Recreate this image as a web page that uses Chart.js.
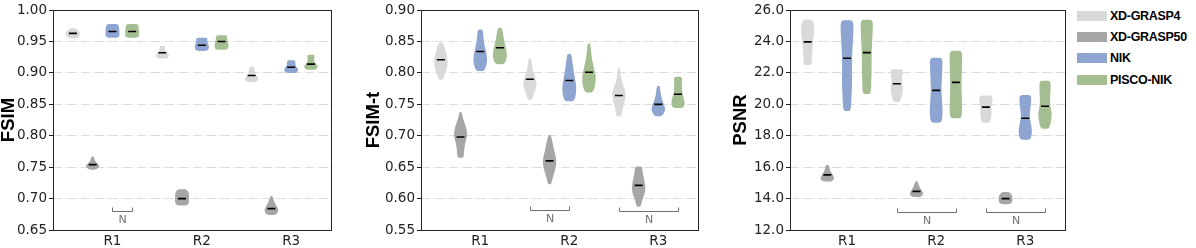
<!DOCTYPE html>
<html>
<head>
<meta charset="utf-8">
<script src="https://cdn.jsdelivr.net/npm/chart.js@4.4.0/dist/chart.umd.min.js"></script>
<style>
  body { margin: 0; width: 1196px; height: 248px; background: #fff; position: relative; overflow: hidden; }
  canvas { position: absolute; top: 0; }
  #legend { position: absolute; left: 1077px; top: 0; font: bold 12.5px "Liberation Sans", Arial, sans-serif; letter-spacing: -0.3px; color: #000; }
  .item { position: absolute; left: 0; height: 14px; line-height: 14px; white-space: nowrap; }
  .box { position: absolute; left: 0; top: 2px; width: 30px; height: 10px; }
  .item span.txt { position: absolute; left: 33px; top: 0; }
</style>
</head>
<body>
<canvas id="fsimChart" width="337" height="248" style="left:0px"></canvas>
<canvas id="fsimtChart" width="343" height="248" style="left:361px"></canvas>
<canvas id="psnrChart" width="341" height="248" style="left:730px"></canvas>
<div id="legend"></div>

<script>
// categories and methods
var categories = ['R1', 'R2', 'R3'];
var methods = ['XD-GRASP4', 'XD-GRASP50', 'NIK', 'PISCO-NIK'];
var methodColors = ['#d9d9d9', '#a6a6a6', '#8ea5d1', '#a4be91'];

// FSIM: one row per category, one value per method
var fsimMedian = [[0.963, 0.754, 0.966, 0.966], [0.932, 0.700, 0.944, 0.950], [0.896, 0.684, 0.909, 0.914]];
var fsimLow    = [[0.955, 0.746, 0.956, 0.956], [0.923, 0.689, 0.935, 0.937], [0.885, 0.674, 0.900, 0.905]];
var fsimHigh   = [[0.971, 0.767, 0.978, 0.978], [0.943, 0.715, 0.956, 0.960], [0.910, 0.704, 0.920, 0.929]];
// relative density from low to high
var fsimShape = [
  [[0.5, 0.9, 1, 1, 0.9, 0.7, 0.4], [0.5, 0.9, 1, 0.6, 0.35, 0.25, 0.15], [0.85, 1, 1, 1, 0.95, 0.9, 0.8], [0.85, 1, 1, 1, 0.95, 0.9, 0.8]],
  [[0.6, 1, 0.9, 0.5, 0.4, 0.4, 0.35], [0.7, 1, 1, 1, 1, 0.9, 0.6], [0.8, 1, 1, 0.95, 0.8, 0.8, 0.75], [0.8, 1, 1, 0.95, 0.85, 0.8, 0.75]],
  [[0.6, 1, 0.9, 0.5, 0.4, 0.4, 0.3], [0.6, 1, 0.95, 0.7, 0.45, 0.3, 0.15], [0.7, 1, 1, 0.7, 0.6, 0.6, 0.55], [0.7, 1, 0.9, 0.5, 0.45, 0.5, 0.5]]
];
var fsimBrackets = [[0, 2, 3, 0.680]];

// FSIM-t
var fsimtMedian = [[0.821, 0.698, 0.834, 0.840], [0.790, 0.660, 0.788, 0.801], [0.764, 0.621, 0.750, 0.766]];
var fsimtLow    = [[0.789, 0.665, 0.803, 0.814], [0.757, 0.623, 0.755, 0.769], [0.731, 0.587, 0.731, 0.744]];
var fsimtHigh   = [[0.848, 0.738, 0.869, 0.872], [0.823, 0.701, 0.830, 0.847], [0.808, 0.651, 0.779, 0.794]];
var fsimtShape = [
  [[0.3, 0.6, 0.9, 1, 0.85, 0.6, 0.3], [0.45, 0.5, 0.7, 1, 0.8, 0.4, 0.15], [0.6, 0.95, 1, 0.8, 0.55, 0.45, 0.35], [0.7, 1, 1, 0.8, 0.6, 0.45, 0.3]],
  [[0.3, 0.6, 1, 0.9, 0.5, 0.3, 0.2], [0.25, 0.5, 0.9, 1, 0.7, 0.45, 0.2], [0.7, 1, 1, 0.8, 0.6, 0.45, 0.3], [0.6, 0.95, 1, 0.7, 0.45, 0.3, 0.2]],
  [[0.4, 0.5, 0.9, 1, 0.5, 0.25, 0.15], [0.3, 0.5, 0.9, 1, 0.8, 0.6, 0.5], [0.5, 1, 0.95, 0.6, 0.4, 0.3, 0.2], [0.8, 1, 0.8, 0.6, 0.55, 0.55, 0.6]]
];
var fsimtBrackets = [[1, 0, 2, 0.582], [2, 0, 3, 0.580]];

// PSNR
var psnrMedian = [[23.98, 15.51, 22.93, 23.29], [21.31, 14.46, 20.89, 21.40], [19.82, 14.00, 19.11, 19.88]];
var psnrLow    = [[22.51, 15.09, 19.57, 20.66], [20.15, 14.10, 18.83, 19.11], [18.83, 13.64, 17.74, 18.45]];
var psnrHigh   = [[25.39, 16.14, 25.35, 25.39], [22.24, 15.11, 22.97, 23.41], [20.56, 14.42, 20.60, 21.50]];
var psnrShape = [
  [[0.6, 0.6, 0.7, 0.75, 0.9, 1, 0.7], [0.7, 1, 0.9, 0.6, 0.4, 0.3, 0.2], [0.55, 0.65, 0.75, 0.7, 0.75, 0.9, 0.95], [0.6, 0.65, 0.7, 0.7, 0.75, 0.85, 0.9]],
  [[0.5, 0.7, 0.9, 0.85, 0.7, 0.85, 0.9], [0.6, 1, 0.9, 0.6, 0.4, 0.3, 0.15], [0.8, 0.95, 0.85, 0.75, 0.8, 0.9, 0.9], [0.85, 0.9, 0.85, 0.8, 0.85, 0.9, 0.9]],
  [[0.6, 0.75, 0.8, 0.8, 0.85, 1, 0.85], [0.6, 0.95, 1, 1, 0.95, 0.8, 0.5], [0.75, 1, 0.85, 0.6, 0.7, 0.85, 0.85], [0.6, 0.9, 1, 0.7, 0.75, 0.8, 0.8]]
];
var psnrBrackets = [[1, 0, 3, 13.15], [2, 0, 3, 13.15]];

// layout of violins inside a group (x axis units)
var methodStep = 0.221;
var violinHalfWidth = 0.078;

function violinX(g, m) {
  return g + (m - 2) * methodStep;
}

// outline of one violin: right side going up, left side coming down
function traceViolin(ctx, xc, pts) {
  var n = pts.length;
  var yb = pts[0].y, yt = pts[n - 1].y;
  ctx.moveTo(xc, yb);
  ctx.lineTo(xc + 0.55 * pts[0].dx, yb);
  ctx.quadraticCurveTo(xc + pts[0].dx, yb, xc + (pts[0].dx + pts[1].dx) / 2, (yb + pts[1].y) / 2);
  for (var i = 1; i < n - 1; i++) {
    ctx.quadraticCurveTo(xc + pts[i].dx, pts[i].y, xc + (pts[i].dx + pts[i + 1].dx) / 2, (pts[i].y + pts[i + 1].y) / 2);
  }
  ctx.quadraticCurveTo(xc + pts[n - 1].dx, yt, xc + 0.55 * pts[n - 1].dx, yt);
  ctx.lineTo(xc - 0.55 * pts[n - 1].dx, yt);
  ctx.quadraticCurveTo(xc - pts[n - 1].dx, yt, xc - (pts[n - 1].dx + pts[n - 2].dx) / 2, (yt + pts[n - 2].y) / 2);
  for (var j = n - 2; j > 0; j--) {
    ctx.quadraticCurveTo(xc - pts[j].dx, pts[j].y, xc - (pts[j].dx + pts[j - 1].dx) / 2, (pts[j].y + pts[j - 1].y) / 2);
  }
  ctx.quadraticCurveTo(xc - pts[0].dx, yb, xc - 0.55 * pts[0].dx, yb);
  ctx.closePath();
}

var violinPlugin = {
  id: 'violins',
  beforeDatasetsDraw: function(chart, args, opts) {
    var ctx = chart.ctx, x = chart.scales.x, y = chart.scales.y;
    var hw = x.getPixelForValue(violinHalfWidth) - x.getPixelForValue(0);
    opts.low.forEach(function(row, g) {
      row.forEach(function(lo, m) {
        var xc = x.getPixelForValue(violinX(g, m));
        var yb = y.getPixelForValue(lo);
        var yt = y.getPixelForValue(opts.high[g][m]);
        var prof = opts.shape[g][m];
        var pts = prof.map(function(w, i) {
          return { dx: w * hw, y: yb + (yt - yb) * i / (prof.length - 1) };
        });
        ctx.save();
        ctx.fillStyle = methodColors[m];
        ctx.beginPath();
        traceViolin(ctx, xc, pts);
        ctx.fill();
        ctx.restore();
      });
    });
  },
  afterDatasetsDraw: function(chart, args, opts) {
    // "N" brackets under the groups
    var ctx = chart.ctx, x = chart.scales.x, y = chart.scales.y;
    opts.brackets.forEach(function(b) {
      var x1 = Math.round(x.getPixelForValue(violinX(b[0], b[1]))) + 0.5;
      var x2 = Math.round(x.getPixelForValue(violinX(b[0], b[2]))) + 0.5;
      var yy = Math.round(y.getPixelForValue(b[3])) + 0.5;
      ctx.save();
      ctx.strokeStyle = '#707070';
      ctx.lineWidth = 1;
      ctx.beginPath();
      ctx.moveTo(x1, yy - 4);
      ctx.lineTo(x1, yy);
      ctx.lineTo(x2, yy);
      ctx.lineTo(x2, yy - 4);
      ctx.stroke();
      ctx.fillStyle = '#707070';
      ctx.font = '11px "DejaVu Sans"';
      ctx.textAlign = 'center';
      ctx.textBaseline = 'middle';
      ctx.fillText('N', (x1 + x2) / 2, yy + 9);
      ctx.restore();
    });
  },
  afterDraw: function(chart) {
    var ctx = chart.ctx, a = chart.chartArea;
    ctx.save();
    ctx.strokeStyle = '#262626';
    ctx.lineWidth = 1;
    ctx.strokeRect(Math.round(a.left) + 0.5, Math.round(a.top) + 0.5, Math.round(a.right - a.left), Math.round(a.bottom - a.top));
    ctx.restore();
  }
};

function createViolinChart(id, title, median, low, high, shape, brackets, yMin, yMax, yStep, digits, axisWidth, titlePad, xMin) {
  var ctx = document.getElementById(id).getContext('2d');
  var datasets = methods.map(function(name, m) {
    return {
      label: name,
      data: categories.map(function(c, g) { return { x: violinX(g, m), y: median[g][m] }; }),
      pointStyle: 'line',
      radius: 4,
      hoverRadius: 4,
      borderColor: '#000',
      borderWidth: 1.6
    };
  });

  return new Chart(ctx, {
    type: 'scatter',
    data: { datasets: datasets },
    plugins: [violinPlugin],
    options: {
      responsive: false,
      animation: false,
      devicePixelRatio: 1,
      layout: { padding: { top: 8, right: 2, left: 0, bottom: 0 } },
      plugins: {
        legend: { display: false },
        tooltip: { enabled: false },
        violins: { low: low, high: high, shape: shape, brackets: brackets }
      },
      scales: {
        x: {
          type: 'linear',
          min: xMin,
          max: 2.45,
          afterBuildTicks: function(scale) {
            scale.ticks = categories.map(function(c, i) { return { value: i }; });
          },
          afterFit: function(scale) { scale.height = 18; },
          ticks: {
            padding: 3,
            color: '#222',
            font: { family: 'DejaVu Sans', size: 13.5 },
            callback: function(v) { return categories[v]; }
          },
          grid: { display: false, drawTicks: false },
          border: { display: false }
        },
        y: {
          min: yMin,
          max: yMax,
          afterFit: function(scale) { scale.width = axisWidth; },
          ticks: {
            stepSize: yStep,
            padding: 2,
            color: '#222',
            font: { family: 'DejaVu Sans', size: 13.5 },
            callback: function(v) { return v.toFixed(digits); }
          },
          grid: {
            color: '#dcdcdc',
            lineWidth: 1,
            tickLength: 4,
            tickWidth: 1,
            tickColor: '#222',
            tickBorderDash: []
          },
          border: { display: false, dash: [9, 2, 1, 2] },
          title: {
            display: true,
            text: title,
            color: '#000',
            padding: { top: titlePad, bottom: 0 },
            font: { family: 'Liberation Sans', size: 18.5, weight: 'bold', lineHeight: 1 }
          }
        }
      }
    }
  });
}

createViolinChart('fsimChart', 'FSIM', fsimMedian, fsimLow, fsimHigh, fsimShape, fsimBrackets, 0.65, 1.0, 0.05, 2, 53, 0, -0.665);
createViolinChart('fsimtChart', 'FSIM-t', fsimtMedian, fsimtLow, fsimtHigh, fsimtShape, fsimtBrackets, 0.55, 0.9, 0.05, 2, 60, 4, -0.665);
createViolinChart('psnrChart', 'PSNR', psnrMedian, psnrLow, psnrHigh, psnrShape, psnrBrackets, 12, 26, 2, 1, 60, 2, -0.64);

// legend
var legend = document.getElementById('legend');
methods.forEach(function(name, m) {
  var item = document.createElement('div');
  item.className = 'item';
  item.style.top = (9 + m * 21.2) + 'px';
  item.innerHTML = '<span class="box" style="background:' + methodColors[m] + '"></span><span class="txt">' + name + '</span>';
  legend.appendChild(item);
});
</script>
</body>
</html>
